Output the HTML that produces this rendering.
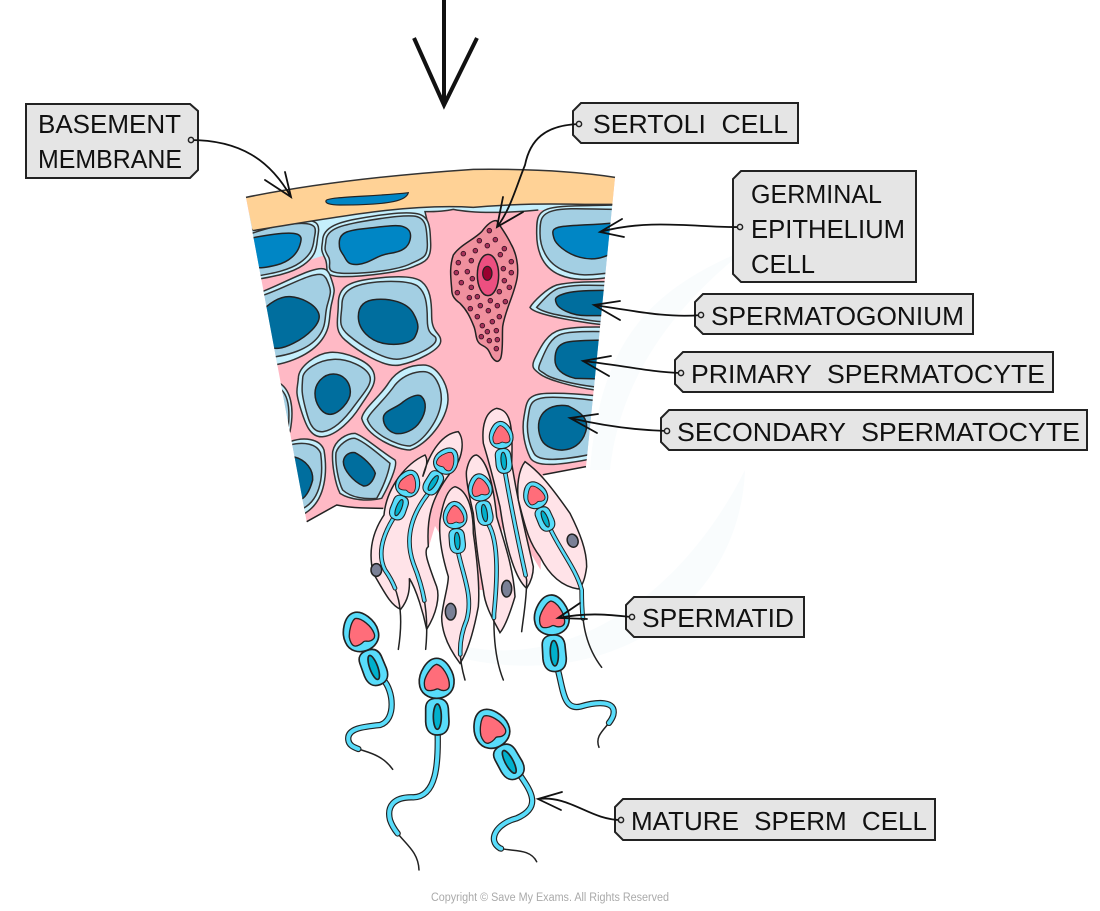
<!DOCTYPE html>
<html><head><meta charset="utf-8"><style>
html,body{margin:0;padding:0;background:#fff}
svg{display:block}
.lb{fill:#e5e5e5;stroke:#222;stroke-width:2}
.t{font-family:"Liberation Sans",sans-serif;font-size:26px;fill:#111;word-spacing:8px}
.l{fill:none;stroke:#111;stroke-width:1.8;stroke-linecap:round}
.h{fill:#e5e5e5;stroke:#222;stroke-width:1.5}
.o{fill:#c5effc;stroke:#333;stroke-width:4.5}
.m{fill:#a3cfe3;stroke:#333;stroke-width:4.5}
.n{fill:#0086c5;stroke:#222;stroke-width:4.5}
.d{fill:#006e9e;stroke:#222;stroke-width:4.5}
.sp{fill:#ffe3e8;stroke:#222;stroke-width:4.5}
.g{fill:#7a8096;stroke:#222;stroke-width:4.5}
.tb{fill:none;stroke:#222;stroke-width:14;stroke-linecap:round}
.ti{fill:none;stroke:#58dcfa;stroke-width:8;stroke-linecap:round}
.bb{fill:none;stroke:#222;stroke-width:19;stroke-linecap:round}
.bi{fill:none;stroke:#58dcfa;stroke-width:12;stroke-linecap:round}
.tk{fill:none;stroke:#222;stroke-width:4.5;stroke-linecap:round}
</style></head><body>
<svg width="1100" height="911" viewBox="0 0 1100 911" xmlns="http://www.w3.org/2000/svg">
<defs>
<clipPath id="tc"><path d="M18,82 Q300,25 700,-2 Q950,-5 1125,22 L1038,890 L905,915 L600,1000 L430,1015 L340,1012 L290,1005 L200,1055 Z"/></clipPath>
<g id="sperm">
<path d="M-33,90 C-33,70 -20,60 0,60 C22,60 33,70 35,90 L37,130 C37,155 25,170 2,170 C-20,170 -32,155 -33,130Z" fill="#58dcfa" stroke="#222" stroke-width="5"/>
<ellipse cx="2" cy="115" rx="12" ry="38" fill="#00b0cc" stroke="#222" stroke-width="5"/>
<path d="M0,-60 C30,-60 55,-15 52,15 C50,45 25,60 0,60 C-25,60 -50,45 -52,15 C-55,-15 -30,-60 0,-60Z" fill="#58dcfa" stroke="#222" stroke-width="5"/>
<path d="M0,-42 C18,-38 38,-5 38,20 C38,35 25,38 15,36 C8,34 4,30 0,32 C-8,36 -20,38 -28,36 C-38,32 -38,15 -36,5 C-30,-15 -12,-40 0,-42Z" fill="#ff6d7a" stroke="#222" stroke-width="4"/>
</g>
</defs>

<!-- faint watermark -->
<g fill="#f9fcfd">
<path d="M745,250 C650,290 600,340 590,470 L610,470 C620,380 670,310 745,250Z"/>
<path d="M440,640 C560,680 680,600 745,470 C740,600 620,690 470,660Z"/>
</g>

<!-- top arrow -->
<path d="M444,0 L444,105 M414,38 L444,105 L477,38" fill="none" stroke="#111" stroke-width="4"/>

<!-- tissue, zoom-1 coordinates -->
<g transform="translate(240 170) scale(.33333)">
<g clip-path="url(#tc)">
<rect x="0" y="-20" width="1140" height="1100" fill="#ffb9c5"/>
<path d="M0,130 L1140,80 L1140,125 L895,120 C800,130 700,130 640,118 C610,125 580,125 555,125 L568,180 L240,260 L0,340 Z" fill="#c5effc"/>
<path d="M895,120 C800,130 700,130 640,118 C610,125 580,125 555,125 L568,180" fill="none" stroke="#333" stroke-width="4.5"/>
<!-- A -->
<path class="o" d="M20,185 C80,160 130,150 190,150 S235,180 232,210 S225,260 190,285 S100,320 40,330Z"/>
<path class="m" d="M20,195 C80,175 130,160 185,160 S225,185 222,210 S212,255 180,278 S100,310 40,320Z"/>
<path class="n" d="M30,205 C80,195 130,187 160,190 S185,210 178,230 S150,275 110,285 S60,293 40,293Z"/>
<!-- B -->
<path class="o" d="M248,210 C250,170 300,155 360,145 S480,125 525,130 S570,170 572,220 S555,275 520,290 S380,320 310,320 S270,295 255,265 S246,235 248,210Z"/>
<path class="m" d="M258,210 C262,175 310,165 365,155 S480,135 520,138 S560,175 562,220 S545,265 510,282 S380,312 312,310 S280,285 265,260 S256,235 258,210Z"/>
<path class="n" d="M298,215 C300,185 330,180 380,175 S470,163 490,170 S515,190 510,210 S490,245 450,250 S390,280 355,283 S320,270 310,255 S297,235 298,215Z"/>
<!-- R1 -->
<path class="o" d="M1130,105 C1050,108 970,105 930,115 S890,150 890,190 S900,290 960,315 S1080,322 1130,322Z"/>
<path class="m" d="M1130,118 C1050,118 980,112 940,122 S900,155 900,190 S915,280 975,303 S1080,308 1130,308Z"/>
<path class="n" d="M1130,158 C1060,165 1000,165 965,170 S938,190 942,205 S975,250 1020,262 S1090,262 1130,245Z"/>
<!-- R2 -->
<path class="o" d="M1130,335 C1050,335 990,335 950,345 C920,355 880,395 870,412 C880,430 960,445 1020,455 S1100,465 1130,465Z"/>
<path class="m" d="M1130,347 C1050,345 1000,343 955,355 C930,365 905,395 890,412 C910,430 970,438 1030,448 S1100,455 1130,455Z"/>
<path class="d" d="M1130,362 C1060,360 1000,362 970,372 S945,390 950,402 S990,437 1040,437 L1130,437Z"/>
<!-- R3 -->
<path class="o" d="M1130,472 C1060,470 1000,470 960,480 S900,535 885,565 S885,600 900,612 S990,655 1130,668Z"/>
<path class="m" d="M1130,485 C1060,485 1000,482 965,492 S915,545 902,575 S900,600 915,612 S1000,648 1130,657Z"/>
<path class="d" d="M1130,510 C1080,510 1030,510 990,515 S945,545 945,570 S965,615 1005,625 L1130,628Z"/>
<!-- R4 -->
<path class="o" d="M1130,685 C1060,675 980,668 920,670 S860,695 852,740 S855,830 870,862 S960,890 1130,850Z"/>
<path class="m" d="M1130,700 C1060,690 980,680 925,682 S870,705 864,745 S868,825 882,850 S960,878 1130,835Z"/>
<path class="d" d="M985,708 C950,702 920,712 905,735 S895,790 905,810 S945,842 970,840 S1025,825 1037,785 S1020,725 985,708Z"/>
<!-- M1 -->
<path class="o" d="M40,375 C100,355 160,320 210,303 S265,300 275,330 S285,360 275,400 S275,470 245,510 S150,585 60,590Z"/>
<path class="m" d="M40,385 C100,370 160,335 205,320 S255,315 265,340 S272,370 262,405 S262,465 235,500 S150,560 60,565Z"/>
<path class="d" d="M60,430 C85,400 120,378 150,380 S225,400 236,430 S200,500 160,520 S110,537 60,530Z"/>
<!-- M2 -->
<path class="o" d="M295,400 C295,350 330,335 390,327 S520,315 545,335 S575,390 575,440 S605,490 602,515 S530,575 480,585 S350,540 315,510 S295,450 295,400Z"/>
<path class="m" d="M306,400 C308,362 340,345 395,338 S515,333 535,350 S562,395 562,450 S590,490 588,510 S525,560 480,567 S360,525 325,495 S305,445 306,400Z"/>
<path class="d" d="M355,440 C355,410 370,390 410,388 S500,395 520,430 S535,480 525,500 S470,528 430,520 S355,480 355,440Z"/>
<!-- M3 -->
<path class="o" d="M175,625 C175,590 230,550 270,547 S385,570 400,605 S385,670 360,710 S290,795 250,800 S195,760 180,710 S172,660 175,625Z"/>
<path class="m" d="M188,625 C188,600 235,570 280,568 S375,590 388,615 S370,670 345,705 S285,780 250,785 S205,750 195,710 S185,660 188,625Z"/>
<path class="d" d="M225,670 C225,640 250,612 280,612 S330,635 331,665 S295,733 270,733 S225,700 225,670Z"/>
<!-- M4 -->
<path class="o" d="M365,745 C370,715 420,680 445,640 S510,585 550,585 S625,640 624,690 C622,750 560,825 510,840 C470,840 380,800 365,745Z"/>
<path class="m" d="M382,748 C390,725 430,695 465,645 C490,615 525,605 550,605 C585,605 605,650 604,690 C600,750 550,815 510,828 C470,828 395,790 382,748Z"/>
<path class="d" d="M430,745 C430,720 470,715 490,695 C510,680 535,670 545,680 C560,695 560,725 540,755 C525,780 490,795 465,790 C445,785 430,765 430,745Z"/>
<!-- left edge cells -->
<path class="o" d="M120,640 C150,660 165,710 150,785 L100,780 L100,640Z"/>
<path class="m" d="M125,660 C145,680 150,720 145,770 L100,770 L100,660Z"/>
<path class="o" d="M150,815 C190,800 240,805 252,840 C262,900 260,990 195,1030 L150,1030Z"/>
<path class="m" d="M150,825 C190,815 230,820 242,850 C250,910 245,985 190,1015 L150,1015Z"/>
<path class="d" d="M160,860 C200,870 220,900 218,930 C210,960 195,990 175,990Z"/>
<!-- L3 -->
<path class="o" d="M278,845 C285,810 320,790 345,790 C375,800 430,850 465,870 C475,885 445,950 425,985 C385,995 330,990 300,970 C285,940 275,880 278,845Z"/>
<path class="m" d="M288,848 C295,825 325,803 345,805 C375,815 425,860 450,880 C445,915 425,960 410,985 C380,988 335,985 308,960 C295,935 285,880 288,848Z"/>
<path class="d" d="M310,875 C312,855 330,845 345,848 C370,860 400,890 406,910 C400,935 385,950 370,948 C340,935 310,900 310,875Z"/>
</g>
<!-- orange -->
<path d="M18,82 Q300,25 700,-2 Q950,-5 1125,22 L1117,103 C1000,105 900,95 700,112 C500,100 300,140 38,182 Z" fill="#ffd296"/>
<path d="M18,82 Q300,25 700,-2 Q950,-5 1125,22 M1117,103 C1000,105 900,95 700,112 C500,100 300,140 38,182" fill="none" stroke="#333" stroke-width="4.5"/>
<path d="M258,92 C262,80 400,80 505,68 C500,90 460,105 300,105 C270,105 255,100 258,92Z" fill="#0086c5" stroke="#222" stroke-width="3.5"/>
<path d="M200,1055 L290,1005 C340,1015 390,1015 430,1015 M905,915 L1038,890" fill="none" stroke="#222" stroke-width="4.5"/>
<!-- sertoli -->
<path d="M770,152 C785,175 800,195 812,220 C830,250 836,290 832,320 C825,370 795,420 788,470 C786,500 790,540 782,565 C775,580 765,575 755,560 C745,540 745,535 725,525 C705,515 710,490 702,470 C690,440 680,420 660,400 C640,385 635,375 635,355 C632,320 628,290 640,255 C660,225 700,210 725,185 C740,165 755,150 770,152Z" fill="#f0909e" stroke="#222" stroke-width="4.5"/>
<g fill="#a8325a" stroke="#331122" stroke-width="2.5">
<circle cx="748" cy="182" r="7"/><circle cx="718" cy="212" r="7"/><circle cx="766" cy="209" r="7"/><circle cx="742" cy="227" r="7"/><circle cx="793" cy="236" r="7"/><circle cx="706" cy="242" r="7"/><circle cx="670" cy="251" r="7"/><circle cx="781" cy="254" r="7"/><circle cx="694" cy="272" r="7"/><circle cx="655" cy="278" r="7"/><circle cx="814" cy="275" r="7"/><circle cx="790" cy="296" r="7"/><circle cx="682" cy="305" r="7"/><circle cx="649" cy="308" r="7"/><circle cx="814" cy="308" r="7"/><circle cx="697" cy="326" r="7"/><circle cx="793" cy="332" r="7"/><circle cx="664" cy="338" r="7"/><circle cx="694" cy="352" r="7"/><circle cx="808" cy="352" r="7"/><circle cx="652" cy="368" r="7"/><circle cx="778" cy="365" r="7"/><circle cx="688" cy="383" r="7"/><circle cx="712" cy="380" r="7"/><circle cx="751" cy="392" r="7"/><circle cx="796" cy="395" r="7"/><circle cx="721" cy="407" r="7"/><circle cx="772" cy="407" r="7"/><circle cx="691" cy="416" r="7"/><circle cx="745" cy="422" r="7"/><circle cx="712" cy="440" r="7"/><circle cx="778" cy="440" r="7"/><circle cx="757" cy="455" r="7"/><circle cx="727" cy="467" r="7"/><circle cx="742" cy="485" r="7"/><circle cx="769" cy="482" r="7"/><circle cx="724" cy="500" r="7"/><circle cx="748" cy="512" r="7"/><circle cx="772" cy="509" r="7"/><circle cx="769" cy="536" r="7"/>
</g>
<ellipse cx="744" cy="315" rx="32" ry="62" fill="#ec4f80" stroke="#222" stroke-width="4.5"/>
<ellipse cx="742" cy="310" rx="14" ry="21" fill="#99002f" stroke="#222" stroke-width="3.5"/>
</g>

<!-- spermatids in cells, zoom-2 coordinates -->
<g transform="translate(330 400) scale(.33333)">
<path d="M160,325 L300,300 L295,445 L315,378 L340,420 L450,570 L460,570 L520,380 L530,340 L632,510 L640,225 L500,100 L200,250Z" fill="#ffb9c5"/>
<path class="sp" d="M285,165 C230,190 170,260 162,345 C125,400 115,460 130,520 C160,570 180,615 212,628 C235,600 240,570 238,535 C260,570 280,640 290,688 C320,640 330,590 320,560 C290,480 280,450 295,440 C290,360 300,300 360,220 C400,180 405,120 385,95 C340,100 300,150 278,230 C290,200 295,180 285,165Z"/>
<path class="sp" d="M500,25 C540,30 550,70 545,190 C560,280 570,330 610,500 C610,530 600,550 590,565 C560,540 530,460 510,320 C500,280 490,230 460,130 C455,80 465,35 500,25Z"/>
<path class="sp" d="M440,165 C470,180 490,250 500,350 C520,420 550,500 555,590 C540,640 525,680 510,698 C490,660 465,620 460,570 C450,510 440,460 430,340 C420,300 405,230 410,210 C415,185 425,165 440,165Z"/>
<path class="sp" d="M375,260 C410,270 430,320 430,400 C440,470 450,560 445,620 C430,700 410,760 390,790 C360,750 335,700 335,650 C340,600 355,560 355,530 C340,480 325,420 330,360 C340,300 355,265 375,260Z"/>
<path class="sp" d="M585,185 C620,210 650,240 720,340 C750,400 770,450 770,500 C765,540 755,560 745,567 C700,560 660,530 630,470 C600,430 590,400 565,300 C560,260 565,210 585,185Z"/>
<ellipse class="g" cx="139" cy="510" rx="16" ry="19"/>
<ellipse class="g" cx="362" cy="635" rx="16" ry="25"/>
<ellipse class="g" cx="530" cy="566" rx="15" ry="25"/>
<ellipse class="g" cx="728" cy="422" rx="16" ry="20" transform="rotate(-20 728 422)"/>

<path class="tk" d="M190,355 C150,420 145,470 165,510 C200,560 225,620 205,748"/>
<path class="tb" pathLength="100" stroke-dasharray="55 100" d="M190,355 C150,420 145,470 165,510 C200,560 225,620 205,748"/>
<path class="ti" pathLength="100" stroke-dasharray="55 100" d="M190,355 C150,420 145,470 165,510 C200,560 225,620 205,748"/>
<path class="tk" d="M295,280 C240,350 225,420 250,490 C270,540 300,620 287,748"/>
<path class="tb" pathLength="100" stroke-dasharray="70 100" d="M295,280 C240,350 225,420 250,490 C270,540 300,620 287,748"/>
<path class="ti" pathLength="100" stroke-dasharray="70 100" d="M295,280 C240,350 225,420 250,490 C270,540 300,620 287,748"/>
<path class="tk" d="M385,458 C400,530 430,590 410,660 C385,720 385,770 405,840"/>
<path class="tb" pathLength="100" stroke-dasharray="80 100" d="M385,458 C400,530 430,590 410,660 C385,720 385,770 405,840"/>
<path class="ti" pathLength="100" stroke-dasharray="80 100" d="M385,458 C400,530 430,590 410,660 C385,720 385,770 405,840"/>
<path class="tk" d="M475,372 C510,430 500,560 492,640 C490,720 500,790 520,840"/>
<path class="tb" pathLength="100" stroke-dasharray="60 100" d="M475,372 C510,430 500,560 492,640 C490,720 500,790 520,840"/>
<path class="ti" pathLength="100" stroke-dasharray="60 100" d="M475,372 C510,430 500,560 492,640 C490,720 500,790 520,840"/>
<path class="tk" d="M525,215 C545,330 570,450 590,540 C590,600 580,650 575,695"/>
<path class="tb" pathLength="100" stroke-dasharray="65 100" d="M525,215 C545,330 570,450 590,540 C590,600 580,650 575,695"/>
<path class="ti" pathLength="100" stroke-dasharray="65 100" d="M525,215 C545,330 570,450 590,540 C590,600 580,650 575,695"/>
<path class="tk" d="M660,385 C690,450 740,510 755,570 C755,650 760,730 815,802"/>
<path class="tb" pathLength="100" stroke-dasharray="65 100" d="M660,385 C690,450 740,510 755,570 C755,650 760,730 815,802"/>
<path class="ti" pathLength="100" stroke-dasharray="65 100" d="M660,385 C690,450 740,510 755,570 C755,650 760,730 815,802"/>

<use href="#sperm" transform="translate(235 250) rotate(22) scale(.68)"/>
<use href="#sperm" transform="translate(350 182) rotate(32) scale(.68)"/>
<use href="#sperm" transform="translate(375 345) rotate(-4) scale(.68)"/>
<use href="#sperm" transform="translate(450 262) rotate(-9) scale(.68)"/>
<use href="#sperm" transform="translate(513 105) rotate(-5) scale(.68)"/>
<use href="#sperm" transform="translate(615 285) rotate(-22) scale(.68)"/>
</g>

<!-- mature sperm, zoom-3 coordinates -->
<g transform="translate(330 590) scale(.33333)">
<path class="tk" d="M160,270 C190,300 200,390 150,405 C100,410 50,415 55,450 C60,490 140,470 188,538"/>
<path class="bb" pathLength="100" stroke-dasharray="72 100" d="M160,270 C190,300 200,390 150,405 C100,410 50,415 55,450 C60,490 140,470 188,538"/>
<path class="bi" pathLength="100" stroke-dasharray="72 100" d="M160,270 C190,300 200,390 150,405 C100,410 50,415 55,450 C60,490 140,470 188,538"/>
<path class="tk" d="M323,430 C325,520 320,620 250,622 C190,620 170,650 180,690 C200,750 265,770 267,840"/>
<path class="bb" pathLength="100" stroke-dasharray="75 100" d="M323,430 C325,520 320,620 250,622 C190,620 170,650 180,690 C200,750 265,770 267,840"/>
<path class="bi" pathLength="100" stroke-dasharray="75 100" d="M323,430 C325,520 320,620 250,622 C190,620 170,650 180,690 C200,750 265,770 267,840"/>
<path class="tk" d="M565,548 C600,600 640,650 560,685 C500,700 470,750 510,775 C550,785 600,775 620,815"/>
<path class="bb" pathLength="100" stroke-dasharray="72 100" d="M565,548 C600,600 640,650 560,685 C500,700 470,750 510,775 C550,785 600,775 620,815"/>
<path class="bi" pathLength="100" stroke-dasharray="72 100" d="M565,548 C600,600 640,650 560,685 C500,700 470,750 510,775 C550,785 600,775 620,815"/>
<path class="tk" d="M683,237 C700,300 700,360 750,350 C800,335 860,330 850,375 C840,410 790,430 807,472"/>
<path class="bb" pathLength="100" stroke-dasharray="78 100" d="M683,237 C700,300 700,360 750,350 C800,335 860,330 850,375 C840,410 790,430 807,472"/>
<path class="bi" pathLength="100" stroke-dasharray="78 100" d="M683,237 C700,300 700,360 750,350 C800,335 860,330 850,375 C840,410 790,430 807,472"/>
<use href="#sperm" transform="translate(90 125) rotate(-20)"/>
<use href="#sperm" transform="translate(320 265)"/>
<use href="#sperm" transform="translate(482 415) rotate(-28)"/>
<use href="#sperm" transform="translate(665 75) rotate(-3)"/>
</g>

<!-- labels -->
<path class="lb" d="M26,104 L190,104 L198,111 L198,170 L190,178 L26,178Z"/>
<text class="t" x="38" y="133" textLength="143" lengthAdjust="spacingAndGlyphs">BASEMENT</text>
<text class="t" x="38" y="168" textLength="144" lengthAdjust="spacingAndGlyphs">MEMBRANE</text>

<path class="lb" d="M581,103 L798,103 L798,143 L581,143 L573,135 L573,111Z"/>
<text class="t" x="593" y="133" textLength="195" lengthAdjust="spacingAndGlyphs">SERTOLI CELL</text>

<path class="lb" d="M741,171 L916,171 L916,282 L741,282 L733,274 L733,179Z"/>
<text class="t" x="751" y="203" textLength="131" lengthAdjust="spacingAndGlyphs">GERMINAL</text>
<text class="t" x="751" y="238" textLength="154" lengthAdjust="spacingAndGlyphs">EPITHELIUM</text>
<text class="t" x="751" y="273" textLength="64" lengthAdjust="spacingAndGlyphs">CELL</text>

<path class="lb" d="M703,294 L973,294 L973,334 L703,334 L695,326 L695,302Z"/>
<text class="t" x="711" y="325" textLength="253" lengthAdjust="spacingAndGlyphs">SPERMATOGONIUM</text>

<path class="lb" d="M683,352 L1053,352 L1053,392 L683,392 L675,384 L675,360Z"/>
<text class="t" x="691" y="383" textLength="354" lengthAdjust="spacingAndGlyphs">PRIMARY SPERMATOCYTE</text>

<path class="lb" d="M669,410 L1087,410 L1087,450 L669,450 L661,442 L661,418Z"/>
<text class="t" x="677" y="441" textLength="403" lengthAdjust="spacingAndGlyphs">SECONDARY SPERMATOCYTE</text>

<path class="lb" d="M634,597 L804,597 L804,637 L634,637 L626,629 L626,605Z"/>
<text class="t" x="642" y="627" textLength="152" lengthAdjust="spacingAndGlyphs">SPERMATID</text>

<path class="lb" d="M623,799 L935,799 L935,840 L623,840 L615,832 L615,807Z"/>
<text class="t" x="631" y="830" textLength="296" lengthAdjust="spacingAndGlyphs">MATURE SPERM CELL</text>

<!-- leader lines drawn over boxes -->
<path class="l" d="M190,140 C240,140 270,160 291,197 M265,180 L291,197 L285,172"/>
<path class="l" d="M579,124 C545,125 530,140 525,165 C515,190 510,210 497,227 M503,197 L497,227 L523,212"/>
<path class="l" d="M740,227 C700,228 650,218 600,232 M622,219 L600,232 L624,237"/>
<path class="l" d="M701,315 C670,318 640,312 594,305 M620,301 L594,305 L620,320"/>
<path class="l" d="M681,373 C650,372 620,365 583,361 M611,356 L583,361 L609,376"/>
<path class="l" d="M667,431 C630,430 600,425 570,418 M598,414 L570,418 L597,433"/>
<path class="l" d="M632,617 C610,615 590,612 558,618 M580,603 L558,618 L587,619"/>
<path class="l" d="M621,820 C590,820 570,795 538,799 M562,792 L538,799 L561,810"/>
<circle class="h" cx="191" cy="140" r="2.6"/>
<circle class="h" cx="579" cy="124" r="2.6"/>
<circle class="h" cx="740" cy="227" r="2.6"/>
<circle class="h" cx="701" cy="315" r="2.6"/>
<circle class="h" cx="681" cy="373" r="2.6"/>
<circle class="h" cx="667" cy="431" r="2.6"/>
<circle class="h" cx="632" cy="617" r="2.6"/>
<circle class="h" cx="621" cy="820" r="2.6"/>

<text x="550" y="901" text-anchor="middle" textLength="238" lengthAdjust="spacingAndGlyphs" style="font-family:'Liberation Sans',sans-serif;font-size:11.5px;fill:#aaa">Copyright © Save My Exams. All Rights Reserved</text>
</svg>
</body></html>
